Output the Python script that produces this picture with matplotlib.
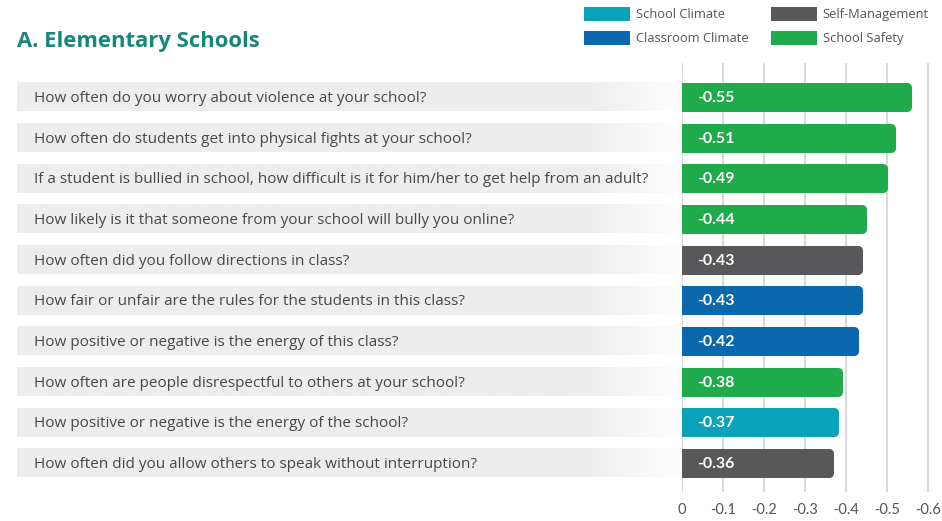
import numpy as np
import matplotlib
matplotlib.use("Agg")
import matplotlib.pyplot as plt
from matplotlib.patches import Patch
from matplotlib.colors import to_rgb

plt.rcParams["font.family"] = ["Lato", "DejaVu Sans"]
WIDE = ["Open Sans", "DejaVu Sans"]

# --- data ---
questions = [
    "How often do you worry about violence at your school?",
    "How often do students get into physical fights at your school?",
    "If a student is bullied in school, how difficult is it for him/her to get help from an adult?",
    "How likely is it that someone from your school will bully you online?",
    "How often did you follow directions in class?",
    "How fair or unfair are the rules for the students in this class?",
    "How positive or negative is the energy of this class?",
    "How often are people disrespectful to others at your school?",
    "How positive or negative is the energy of the school?",
    "How often did you allow others to speak without interruption?",
]
values = [-0.55, -0.51, -0.49, -0.44, -0.43, -0.43, -0.42, -0.38, -0.37, -0.36]
groups = [
    "School Safety", "School Safety", "School Safety", "School Safety",
    "Self-Management", "Classroom Climate", "Classroom Climate",
    "School Safety", "School Climate", "Self-Management",
]
legend_order = ["School Climate", "Classroom Climate", "Self-Management", "School Safety"]
ticks = [0, -0.1, -0.2, -0.3, -0.4, -0.5, -0.6]
tick_labels = ["0", "-0.1", "-0.2", "-0.3", "-0.4", "-0.5", "-0.6"]

colors = {
    "School Climate": "#0aa2bb",
    "Classroom Climate": "#0a68ad",
    "Self-Management": "#58585a",
    "School Safety": "#1faa4b",
}

fig = plt.figure(figsize=(9.42, 5.21), dpi=100)
W, H = 942, 521
bottom = (H - 492) / H
height = (492 - 63) / H

ax_lab = fig.add_axes([17 / W, bottom, (680 - 17) / W, height])
ax = fig.add_axes([682 / W, bottom, (936 - 682) / W, height], sharey=ax_lab)

n = len(questions)
y = np.arange(n)
row_h = 0.71

# label bands with a fade to white on the right
band = np.ones((1, 300, 3))
base = np.array(to_rgb("#ededed"))
fade = np.clip((np.linspace(0, 1, 300) - 0.86) / 0.14, 0, 1)
for k in range(3):
    band[0, :, k] = base[k] + (0.995 - base[k]) * fade
for i, q in enumerate(questions):
    ax_lab.imshow(band, extent=(0, 1, i + row_h / 2, i - row_h / 2),
                  aspect="auto", interpolation="bilinear")
    ax_lab.annotate(q, xy=(0.0256, i), xytext=(0, -1.5), textcoords="offset pixels",
                    va="center", ha="left", fontsize=11.0,
                    color="#474747", family=WIDE)
ax_lab.set_xlim(0, 1)
ax_lab.set_ylim(n - 1 + 0.713, -0.836)
ax_lab.axis("off")

# bars with rounded ends (thick edge with round joins)
lw_px = 9
bar_colors = [colors[g] for g in groups]
ax.barh(y, values, height=row_h - lw_px / 40.67, color=bar_colors,
        edgecolor=bar_colors, linewidth=lw_px * 0.72, joinstyle="round",
        zorder=3)
for i, v in enumerate(values):
    ax.annotate(f"{v:.2f}", xy=(0, i), xytext=(15, -1), textcoords="offset pixels",
                va="center", ha="left", color="white", fontsize=11.5,
                fontweight="bold", zorder=4)

ax.set_xlim(0, -0.62)
ax.set_xticks(ticks)
ax.set_xticklabels(tick_labels, color="#555555", fontsize=10.5)
ax.tick_params(axis="x", length=0, pad=8)
ax.tick_params(axis="y", left=False, labelleft=False)
for t in ticks:
    ax.axvline(t, color="#d9d9d9", linewidth=1.5, zorder=1)
for s in ax.spines.values():
    s.set_visible(False)

fig.text(17 / W, 1 - 41 / H, "A. Elementary Schools", fontsize=15.8,
         fontweight="bold", color="#17877a", va="center", ha="left",
         family=WIDE)

handles = [Patch(facecolor=colors[g], edgecolor="none") for g in legend_order]
fig.legend(handles, legend_order, ncol=2, loc="upper left",
           bbox_to_anchor=(572 / W, 1 + 5 / H), frameon=False,
           prop={"family": WIDE, "size": 9.3},
           handlelength=3.6, handleheight=1.3, handletextpad=0.45,
           columnspacing=1.7, labelspacing=0.75, labelcolor="#555555")

fig.savefig("out.png", dpi=100)
